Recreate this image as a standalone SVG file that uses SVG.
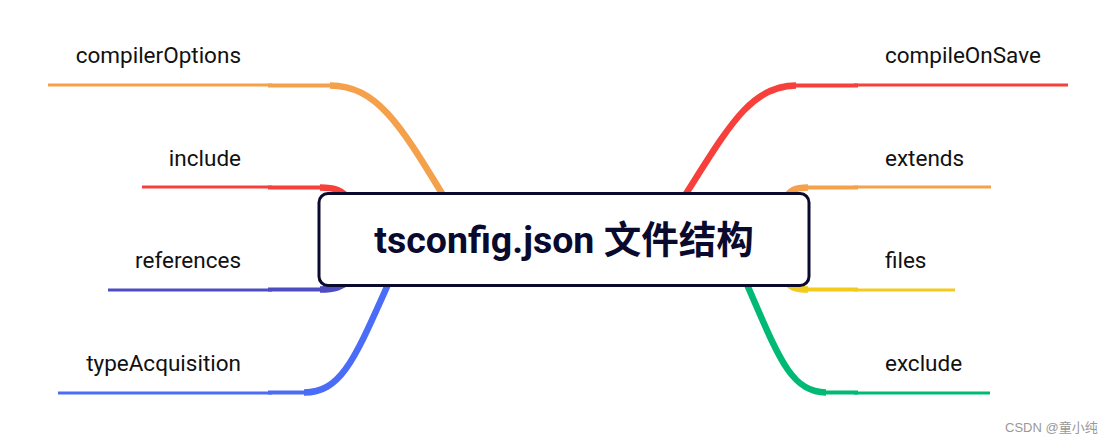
<svg xmlns="http://www.w3.org/2000/svg" width="1120" height="444" viewBox="0 0 1120 444">
<style>
.thin{fill:none;stroke-width:3}
.mid{fill:none;stroke-width:4}
.thick{fill:none;stroke-width:6.5}
.lbl{font-family:Roboto,"Liberation Sans",sans-serif;font-size:22.5px;fill:#111}
.l{text-anchor:end}
</style>
<rect width="1120" height="444" fill="#fff"/>
<g id="connectors">
<g stroke="#f5a04a"><path class="thin" d="M48 85H272"/><path class="mid" d="M268 85.5H334"/><path class="thick" d="M330 85.5C378 85.5 402 128 446 200"/></g>
<g stroke="#f7403b"><path class="thin" d="M142 187H272"/><path class="mid" d="M268 187.5H324"/><path class="thick" d="M320 187.5C335 187.5 342 190 350 200"/></g>
<g stroke="#4d4cc0"><path class="thin" d="M108 290H272"/><path class="mid" d="M268 289.5H324"/><path class="thick" d="M320 289.5C335 289.5 342 287 350 280"/></g>
<g stroke="#4a6cf7"><path class="thin" d="M58 393H272"/><path class="mid" d="M268 392.5H308"/><path class="thick" d="M304 392.5C342 392.5 355 358 390 280"/></g>
<g stroke="#f7403b"><path class="thin" d="M1068 85H854"/><path class="mid" d="M858 85.5H792"/><path class="thick" d="M796 85.5C750 85.5 728 128 682 200"/></g>
<g stroke="#f5a04a"><path class="thin" d="M991 187H854"/><path class="mid" d="M858 187.5H804"/><path class="thick" d="M808 187.5C795 187.5 790 190 784 200"/></g>
<g stroke="#f2cb1c"><path class="thin" d="M955 290H854"/><path class="mid" d="M858 289.5H804"/><path class="thick" d="M808 289.5C795 289.5 790 287 784 280"/></g>
<g stroke="#00b975"><path class="thin" d="M990 393H854"/><path class="mid" d="M858 392.5H822"/><path class="thick" d="M826 392.5C790 392.5 778 355 745 280"/></g>
</g>
<g id="root">
<rect x="319" y="193.5" width="490" height="92" rx="9" fill="#fff" stroke="#0a0a2e" stroke-width="3"/>
<text x="564" y="253" text-anchor="middle" font-family="Roboto,'Noto Sans CJK SC',sans-serif" font-size="37.5" font-weight="bold" fill="#0a0a2e">tsconfig.json 文件结构</text>
</g>
<g id="n-compilerOptions"><text class="lbl l" x="241" y="63">compilerOptions</text></g>
<g id="n-include"><text class="lbl l" x="241" y="166">include</text></g>
<g id="n-references"><text class="lbl l" x="241" y="268">references</text></g>
<g id="n-typeAcquisition"><text class="lbl l" x="241" y="371">typeAcquisition</text></g>
<g id="n-compileOnSave"><text class="lbl" x="885" y="63">compileOnSave</text></g>
<g id="n-extends"><text class="lbl" x="885" y="166">extends</text></g>
<g id="n-files"><text class="lbl" x="885" y="268">files</text></g>
<g id="n-exclude"><text class="lbl" x="885" y="371">exclude</text></g>
<text x="1005" y="432" font-family="'Liberation Sans','Noto Sans CJK SC',sans-serif" font-size="13" fill="#999">CSDN @童小纯</text>
</svg>
